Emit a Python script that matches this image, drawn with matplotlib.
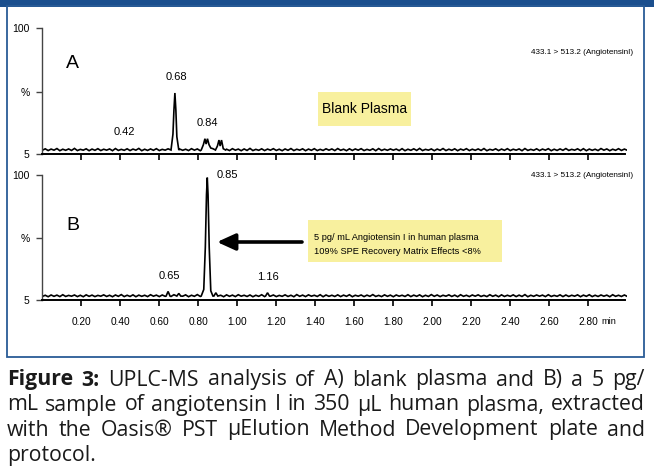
import numpy as np
import matplotlib
matplotlib.use("Agg")
import matplotlib.pyplot as plt
from matplotlib.patches import Rectangle, FancyArrowPatch

# ---------------- data ----------------
t_grid = np.round(np.arange(0, 3.0001, 0.015), 3)

base_a = [
    7.8, 8.9, 7.6, 8.7, 7.9, 9.1, 7.5, 8.6, 7.8, 8.8, 7.7, 9.2, 7.6, 8.5, 7.9, 8.9, 7.5, 8.7, 7.8, 9.0,
    7.6, 8.6, 7.9, 8.8, 7.5, 9.1, 7.7, 8.5, 7.8, 8.9, 7.6, 8.7, 7.9, 9.2, 7.5, 8.6, 7.7, 8.8, 7.8, 9.0,
    7.6, 8.5, 7.9, 8.9, 7.7, 9.1, 7.5, 8.7, 7.8, 8.6, 7.6, 9.0, 7.9, 8.8, 7.5, 8.6, 7.8, 9.1, 7.7, 8.7,
    7.5, 8.9, 7.8, 8.6, 7.6, 9.0, 7.9, 8.7, 7.5, 8.8, 7.7, 9.2, 7.6, 8.5, 7.8, 8.9, 7.6, 8.7, 7.9, 9.0,
    7.7, 8.6, 7.5, 8.8, 7.8, 9.1, 7.6, 8.6, 7.9, 8.9, 7.5, 8.7, 7.8, 9.0, 7.6, 8.5, 7.7, 8.9, 7.9, 8.8,
    7.6, 9.1, 7.8, 8.6, 7.5, 8.9, 7.7, 8.8, 7.9, 9.0, 7.6, 8.5, 7.8, 8.9, 7.5, 9.1, 7.7, 8.6, 7.8, 8.8,
    7.9, 8.7, 7.6, 9.0, 7.5, 8.6, 7.8, 8.9, 7.7, 9.2, 7.6, 8.5, 7.9, 8.8, 7.5, 8.7, 7.8, 9.1, 7.6, 8.6,
    7.8, 8.9, 7.5, 8.7, 7.9, 9.0, 7.6, 8.6, 7.8, 8.8, 7.7, 9.1, 7.5, 8.5, 7.9, 8.9, 7.6, 8.7, 7.8, 9.0,
    7.6, 8.6, 7.9, 8.8, 7.5, 9.1, 7.7, 8.5, 7.8, 8.9, 7.6, 8.7, 7.9, 9.0, 7.5, 8.6, 7.7, 8.8, 7.8, 9.1,
    7.7, 8.5, 7.9, 8.9, 7.6, 9.0, 7.5, 8.7, 7.8, 8.6, 7.6, 9.1, 7.9, 8.8, 7.5, 8.6, 7.8, 9.0, 7.7, 8.7,
    7.8,
]

base_b = [
    7.7, 8.6, 7.5, 8.8, 7.8, 8.7, 7.6, 9.0, 7.7, 8.5, 7.9, 8.8, 7.6, 8.6, 7.5, 8.9, 7.8, 8.7, 7.6, 8.5,
    7.9, 8.9, 7.7, 8.6, 7.5, 8.8, 7.8, 9.1, 7.6, 8.6, 7.7, 8.9, 7.5, 8.7, 7.8, 8.6, 7.6, 9.0, 7.9, 8.7,
    7.6, 8.8, 7.8, 8.5, 7.7, 9.0, 7.6, 8.7, 7.9, 8.9, 7.5, 8.6, 7.8, 9.1, 7.7, 8.8, 7.6, 8.5, 7.8, 8.9,
    7.7, 8.6, 7.5, 8.9, 7.8, 8.7, 7.6, 9.0, 7.9, 8.6, 7.7, 8.8, 7.5, 8.6, 7.8, 9.0, 7.6, 8.7, 7.9, 8.8,
    7.6, 8.5, 7.8, 8.9, 7.7, 8.6, 7.5, 9.1, 7.8, 8.7, 7.6, 8.9, 7.9, 8.6, 7.7, 9.0, 7.5, 8.8, 7.8, 8.6,
    7.7, 8.9, 7.6, 8.7, 7.8, 9.0, 7.5, 8.6, 7.9, 8.8, 7.6, 8.7, 7.8, 9.1, 7.7, 8.5, 7.6, 8.9, 7.8, 8.7,
    7.5, 8.8, 7.9, 8.6, 7.7, 9.0, 7.6, 8.7, 7.8, 8.9, 7.5, 8.6, 7.7, 9.1, 7.8, 8.8, 7.6, 8.6, 7.9, 8.9,
    7.7, 8.7, 7.5, 9.0, 7.8, 8.6, 7.6, 8.8, 7.9, 8.9, 7.7, 8.5, 7.6, 9.0, 7.8, 8.7, 7.5, 8.9, 7.7, 8.6,
    7.8, 8.9, 7.6, 8.7, 7.7, 9.1, 7.5, 8.6, 7.8, 8.8, 7.9, 8.7, 7.6, 9.0, 7.7, 8.5, 7.8, 8.9, 7.6, 8.8,
    7.7, 8.6, 7.9, 8.9, 7.5, 8.7, 7.8, 9.0, 7.6, 8.6, 7.7, 8.8, 7.9, 8.7, 7.5, 9.0, 7.8, 8.6, 7.7, 8.8,
    7.7,
]

# peaks of trace A (retention time, % intensity)
peak_a1_t = [0.660, 0.670, 0.675, 0.680, 0.685, 0.690, 0.700]
peak_a1_v = [8.0, 20.0, 38.0, 51.0, 38.0, 18.0, 8.0]
peak_a2_t = [0.815, 0.826, 0.834, 0.840, 0.847, 0.855, 0.864, 0.875, 0.888, 0.898, 0.906, 0.912, 0.919, 0.928, 0.940]
peak_a2_v = [8.0, 12.0, 16.5, 12.5, 16.5, 12.0, 9.5, 9.0, 8.0, 11.0, 15.5, 11.0, 15.5, 9.0, 8.0]

# peaks of trace B
peak_b1_t = [0.635, 0.645, 0.655]
peak_b1_v = [8.0, 11.5, 8.0]
peak_b2_t = [0.690, 0.700, 0.710]
peak_b2_v = [8.0, 10.0, 8.0]
peak_b3_t = [0.815, 0.828, 0.836, 0.842, 0.846, 0.850, 0.856, 0.864, 0.875]
peak_b3_v = [8.0, 13.0, 45.0, 85.0, 98.0, 85.0, 45.0, 12.0, 8.0]
peak_b4_t = [0.880, 0.890, 0.900]
peak_b4_v = [8.0, 10.5, 8.0]
peak_b5_t = [1.145, 1.155, 1.165]
peak_b5_v = [8.0, 10.5, 8.0]

x_tick_vals = [0.20, 0.40, 0.60, 0.80, 1.00, 1.20, 1.40, 1.60, 1.80, 2.00, 2.20, 2.40, 2.60, 2.80]
x_tick_labels = ["0.20", "0.40", "0.60", "0.80", "1.00", "1.20", "1.40", "1.60", "1.80",
                 "2.00", "2.20", "2.40", "2.60", "2.80"]
y_tick_vals = [5, 52, 100]
y_tick_labels = ["5", "%", "100"]

caption_lines = [
    [("Figure", "bold"), ("3:", "bold"), ("UPLC-MS", "normal"), ("analysis", "normal"), ("of", "normal"),
     ("A)", "normal"), ("blank", "normal"), ("plasma", "normal"), ("and", "normal"), ("B)", "normal"),
     ("a", "normal"), ("5", "normal"), ("pg/", "normal")],
    [(w, "normal") for w in "mL sample of angiotensin I in 350 \u03bcL human plasma, extracted".split()],
    [(w, "normal") for w in "with the Oasis\u00ae PST \u03bcElution Method Development plate and".split()],
    [(w, "normal") for w in "protocol.".split()],
]


def build(base, peaks):
    pts = list(zip(t_grid.tolist(), base))
    for pt, pv in peaks:
        lo, hi = min(pt), max(pt)
        pts = [p for p in pts if p[0] < lo or p[0] > hi]
        pts += list(zip(pt, pv))
    pts.sort()
    t, v = zip(*pts)
    return np.array(t), np.array(v)


trace_a = build(base_a, [(peak_a1_t, peak_a1_v), (peak_a2_t, peak_a2_v)])
trace_b = build(base_b, [(peak_b1_t, peak_b1_v), (peak_b2_t, peak_b2_v), (peak_b3_t, peak_b3_v),
                         (peak_b4_t, peak_b4_v), (peak_b5_t, peak_b5_v)])

# ---------------- figure ----------------
W, H = 654, 471
fig = plt.figure(figsize=(W / 100, H / 100), dpi=100)
fig.patch.set_facecolor("white")

NARROW = ["Liberation Sans", "DejaVu Sans"]
CAP = ["Open Sans", "DejaVu Sans"]


def fx(x):
    return x / W


def fy(y):
    return 1 - y / H


# frame + top bar
fig.add_artist(Rectangle((0, fy(7)), 1, 7 / H, transform=fig.transFigure,
                         facecolor="#1b4f8e", edgecolor="none"))
fig.add_artist(Rectangle((fx(7), fy(357)), fx(644) - fx(7), fy(6) - fy(357), transform=fig.transFigure,
                         facecolor="none", edgecolor="#2a5c96", lw=1.3))

x0_px, x3_px = 42.3, 627.3
axA = fig.add_axes([fx(x0_px), fy(154), fx(x3_px) - fx(x0_px), fy(28) - fy(154)])
axB = fig.add_axes([fx(x0_px), fy(300), fx(x3_px) - fx(x0_px), fy(175) - fy(300)])

for ax, (tt, vv) in ((axA, trace_a), (axB, trace_b)):
    ax.set_facecolor("none")
    ax.plot(tt, vv, color="black", lw=1.2, solid_joinstyle="miter")
    ax.set_xlim(0, 3.0)
    ax.set_ylim(5, 100)
    for s in ("top", "right"):
        ax.spines[s].set_visible(False)
    ax.spines["left"].set_color("#444444")
    ax.spines["left"].set_linewidth(1.0)
    ax.spines["bottom"].set_color("black")
    ax.spines["bottom"].set_linewidth(1.4)
    ax.spines["bottom"].set_bounds(0, 2.99)
    ax.set_yticks(y_tick_vals)
    ax.set_yticklabels(y_tick_labels, family=NARROW, fontsize=7.5)
    ax.set_xticks(x_tick_vals)
    ax.tick_params(axis="y", direction="out", length=4, width=1.0, pad=5.0, color="#444444")
    ax.tick_params(axis="x", direction="out", length=4, width=1.2, pad=8.0)

axA.set_xticklabels([])
axB.set_xticklabels(x_tick_labels, family=NARROW, fontsize=7.3)


def ftext(x, y, s, **kw):
    kw.setdefault("family", NARROW)
    fig.text(fx(x), fy(y), s, **kw)


ftext(601, 321, "min", fontsize=6.6, ha="left", va="center")

# panel labels / annotations
ftext(72, 63, "A", fontsize=14, ha="center", va="center")
ftext(73, 226, "B", fontsize=14, ha="center", va="center")
ftext(633, 52, "433.1 > 513.2 (AngiotensinI)", fontsize=5.9, ha="right", va="center")
ftext(633, 176, "433.1 > 513.2 (AngiotensinI)", fontsize=5.9, ha="right", va="center")

ftext(176, 77, "0.68", fontsize=8, ha="center", va="center")
ftext(124, 132, "0.42", fontsize=8, ha="center", va="center")
ftext(207, 123, "0.84", fontsize=8, ha="center", va="center")
ftext(227, 175, "0.85", fontsize=8, ha="center", va="center")
ftext(169, 276, "0.65", fontsize=8, ha="center", va="center")
ftext(268, 277, "1.16", fontsize=8, ha="center", va="center")

yellow = "#f8f09e"
fig.add_artist(Rectangle((fx(318), fy(126)), fx(411) - fx(318), fy(92) - fy(126),
                         transform=fig.transFigure, facecolor=yellow, edgecolor="none"))
ftext(364.5, 109, "Blank Plasma", fontsize=10, ha="center", va="center")

fig.add_artist(Rectangle((fx(308), fy(262)), fx(502) - fx(308), fy(220) - fy(262),
                         transform=fig.transFigure, facecolor=yellow, edgecolor="none"))
ftext(314, 237, "5 pg/ mL Angiotensin I in human plasma", fontsize=6.7, ha="left", va="center")
ftext(314, 252, "109% SPE Recovery Matrix Effects <8%", fontsize=6.7, ha="left", va="center")

fig.add_artist(FancyArrowPatch(
    (fx(302), fy(242)), (fx(217), fy(242)), transform=fig.transFigure,
    arrowstyle="-|>,head_length=1.1,head_width=0.5", mutation_scale=10,
    lw=2.6, color="black", shrinkA=0, shrinkB=0))

# ---------------- caption (justified) ----------------
renderer = fig.canvas.get_renderer()
cap_left, cap_right = 7, 645
cap_ys = [380, 405, 430, 455]
cap_size = 15.3

probe1 = fig.text(0, 0, "n n", family=CAP, fontsize=cap_size)
probe2 = fig.text(0, 0, "nn", family=CAP, fontsize=cap_size)
space_w = probe1.get_window_extent(renderer).width - probe2.get_window_extent(renderer).width
probe1.remove()
probe2.remove()

for li, (words, yc) in enumerate(zip(caption_lines, cap_ys)):
    objs = []
    widths = []
    for w, wt in words:
        t = fig.text(0, fy(yc), w, family=CAP, fontsize=cap_size, weight=wt,
                     ha="left", va="center", color="#1a1a1a")
        objs.append(t)
        widths.append(t.get_window_extent(renderer).width)
    justify = li < len(caption_lines) - 1 and len(words) > 1
    if justify:
        gap = (cap_right - cap_left - sum(widths)) / (len(words) - 1)
    else:
        gap = space_w
    x = cap_left
    for t, wd in zip(objs, widths):
        t.set_x(fx(x))
        x += wd + gap

fig.savefig("out.png", dpi=100, facecolor="white")
